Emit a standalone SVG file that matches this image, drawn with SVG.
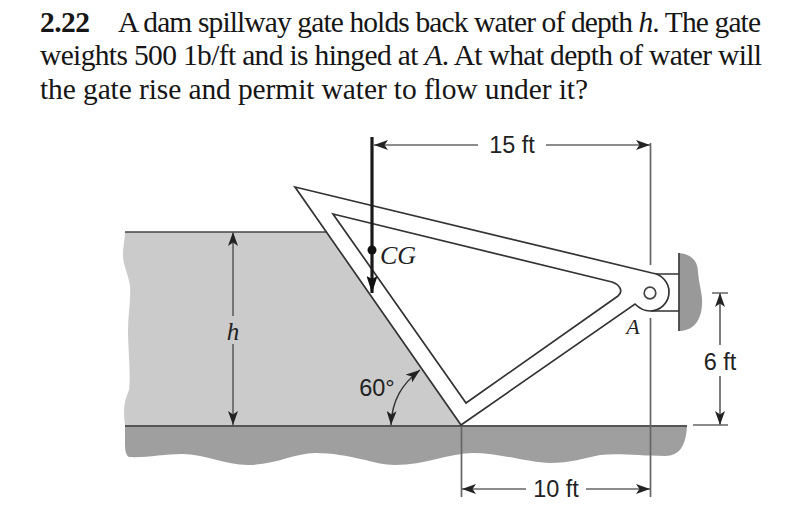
<svg xmlns="http://www.w3.org/2000/svg" width="797" height="524" viewBox="0 0 797 524">
<style>
.t{font-family:"Liberation Serif",serif;font-size:29.5px;fill:#161616}
.s{font-family:"Liberation Sans",sans-serif;font-size:23.5px;fill:#222}
.i{font-family:"Liberation Serif",serif;font-style:italic;fill:#222}
.d{fill:none;stroke:#666;stroke-width:1.7}
.g{fill:none;stroke:#333;stroke-width:1.6}
</style>
<defs>
<marker id="a" viewBox="0 0 14 10" refX="14" refY="5" markerWidth="14" markerHeight="10" markerUnits="userSpaceOnUse" orient="auto-start-reverse"><path d="M0 0L14 5L0 10L3.5 5Z" fill="#222"/></marker>
<marker id="f" viewBox="0 0 17 11" refX="17" refY="5.5" markerWidth="17" markerHeight="11" markerUnits="userSpaceOnUse" orient="auto"><path d="M0 0L17 5.5L0 11L3 5.5Z" fill="#111"/></marker>
</defs>
<rect width="797" height="524" fill="#fff"/>
<g id="problem">
<text class="t" x="40" y="32" font-weight="bold" textLength="50" lengthAdjust="spacing">2.22</text>
<text class="t" x="118" y="32" textLength="643" lengthAdjust="spacing">A dam spillway gate holds back water of depth <tspan font-style="italic">h</tspan>. The gate</text>
<text class="t" x="40" y="65" textLength="722" lengthAdjust="spacing">weights 500 1b/ft and is hinged at <tspan font-style="italic">A</tspan>. At what depth of water will</text>
<text class="t" x="40" y="99" textLength="548" lengthAdjust="spacing">the gate rise and permit water to flow under it?</text>
</g>
<g id="water">
<path d="M125 232H332L461 425H125C123 410 124 402 129 390C131 375 128 350 128 330C128 315 131 300 130 285C127 270 123 265 123 255C123 245 125 240 125 232Z" fill="#cbcbcb"/>
<path d="M125 232H332" stroke="#444" stroke-width="1.6" fill="none"/>
</g>
<g id="ground">
<path d="M125 426H687C686 445 680 456 665 456C640 456 620 453 600 455C585 458 570 463 550 463C530 463 500 453 473 453C450 453 425 465 395 465C375 465 350 453 315 453C295 453 275 465 248 465C225 465 205 454 182 454C165 454 145 458 129 457Q125 455 125 445Z" fill="#9f9f9f"/>
<path d="M125 426H687" stroke="#555" stroke-width="2" fill="none"/>
</g>
<g id="wall">
<path d="M679 253C692 254 698 262 698 272C699 285 703 295 702 305C701 322 692 331 679 331Z" fill="#999"/>
<path d="M679 253V331" stroke="#444" stroke-width="1.8" fill="none"/>
<path d="M651 274H679M651 311H679" class="g"/>
</g>
<g id="gate">
<path d="M295 187L652 273C662 274 669 283 669 292C669 303 660 311 650 311C645 311 640 309 635 304L461 425Z" fill="#fff" stroke="#333" stroke-width="1.7" stroke-linejoin="miter"/>
<path d="M333 214L612 282C621 285 623 292 618 296L466 403Z" fill="#fff" stroke="#333" stroke-width="1.7"/>
<circle cx="650" cy="293" r="5.8" fill="#fff" stroke="#444" stroke-width="1.7"/>
</g>
<g id="connectors">
<path class="d" d="M650.5 143V265M650.5 318V497M461.5 426V497"/>
<path class="d" d="M374 145H478" marker-start="url(#a)"/>
<path class="d" d="M546 145H650" marker-end="url(#a)"/>
<path class="d" d="M462 489H526" marker-start="url(#a)"/>
<path class="d" d="M586 489H650" marker-end="url(#a)"/>
<path class="d" d="M233 232V316" marker-start="url(#a)"/>
<path class="d" d="M233 344V425" marker-end="url(#a)"/>
<path class="d" d="M720 293V345" marker-start="url(#a)"/>
<path class="d" d="M720 376V425" marker-end="url(#a)"/>
<path class="d" d="M712 293H728M693 425H728"/>
<path d="M391 425C392 400 402 384 420 370" fill="none" stroke="#333" stroke-width="1.4" marker-start="url(#a)" marker-end="url(#a)"/>
<path d="M372 137V293" fill="none" stroke="#1a1a1a" stroke-width="3.2" marker-end="url(#f)"/>
<circle cx="372" cy="250" r="4.5" fill="#111"/>
</g>
<g id="labels">
<text class="s" x="512" y="153" text-anchor="middle">15 ft</text>
<text class="s" x="556" y="497" text-anchor="middle">10 ft</text>
<text class="s" x="720" y="370" text-anchor="middle">6 ft</text>
<text class="s" x="377" y="396" text-anchor="middle">60°</text>
<text class="i" x="398" y="264" font-size="26" text-anchor="middle">CG</text>
<text class="i" x="633" y="334" font-size="22" text-anchor="middle">A</text>
<text class="i" x="233" y="340" font-size="25" text-anchor="middle">h</text>
</g>
</svg>
